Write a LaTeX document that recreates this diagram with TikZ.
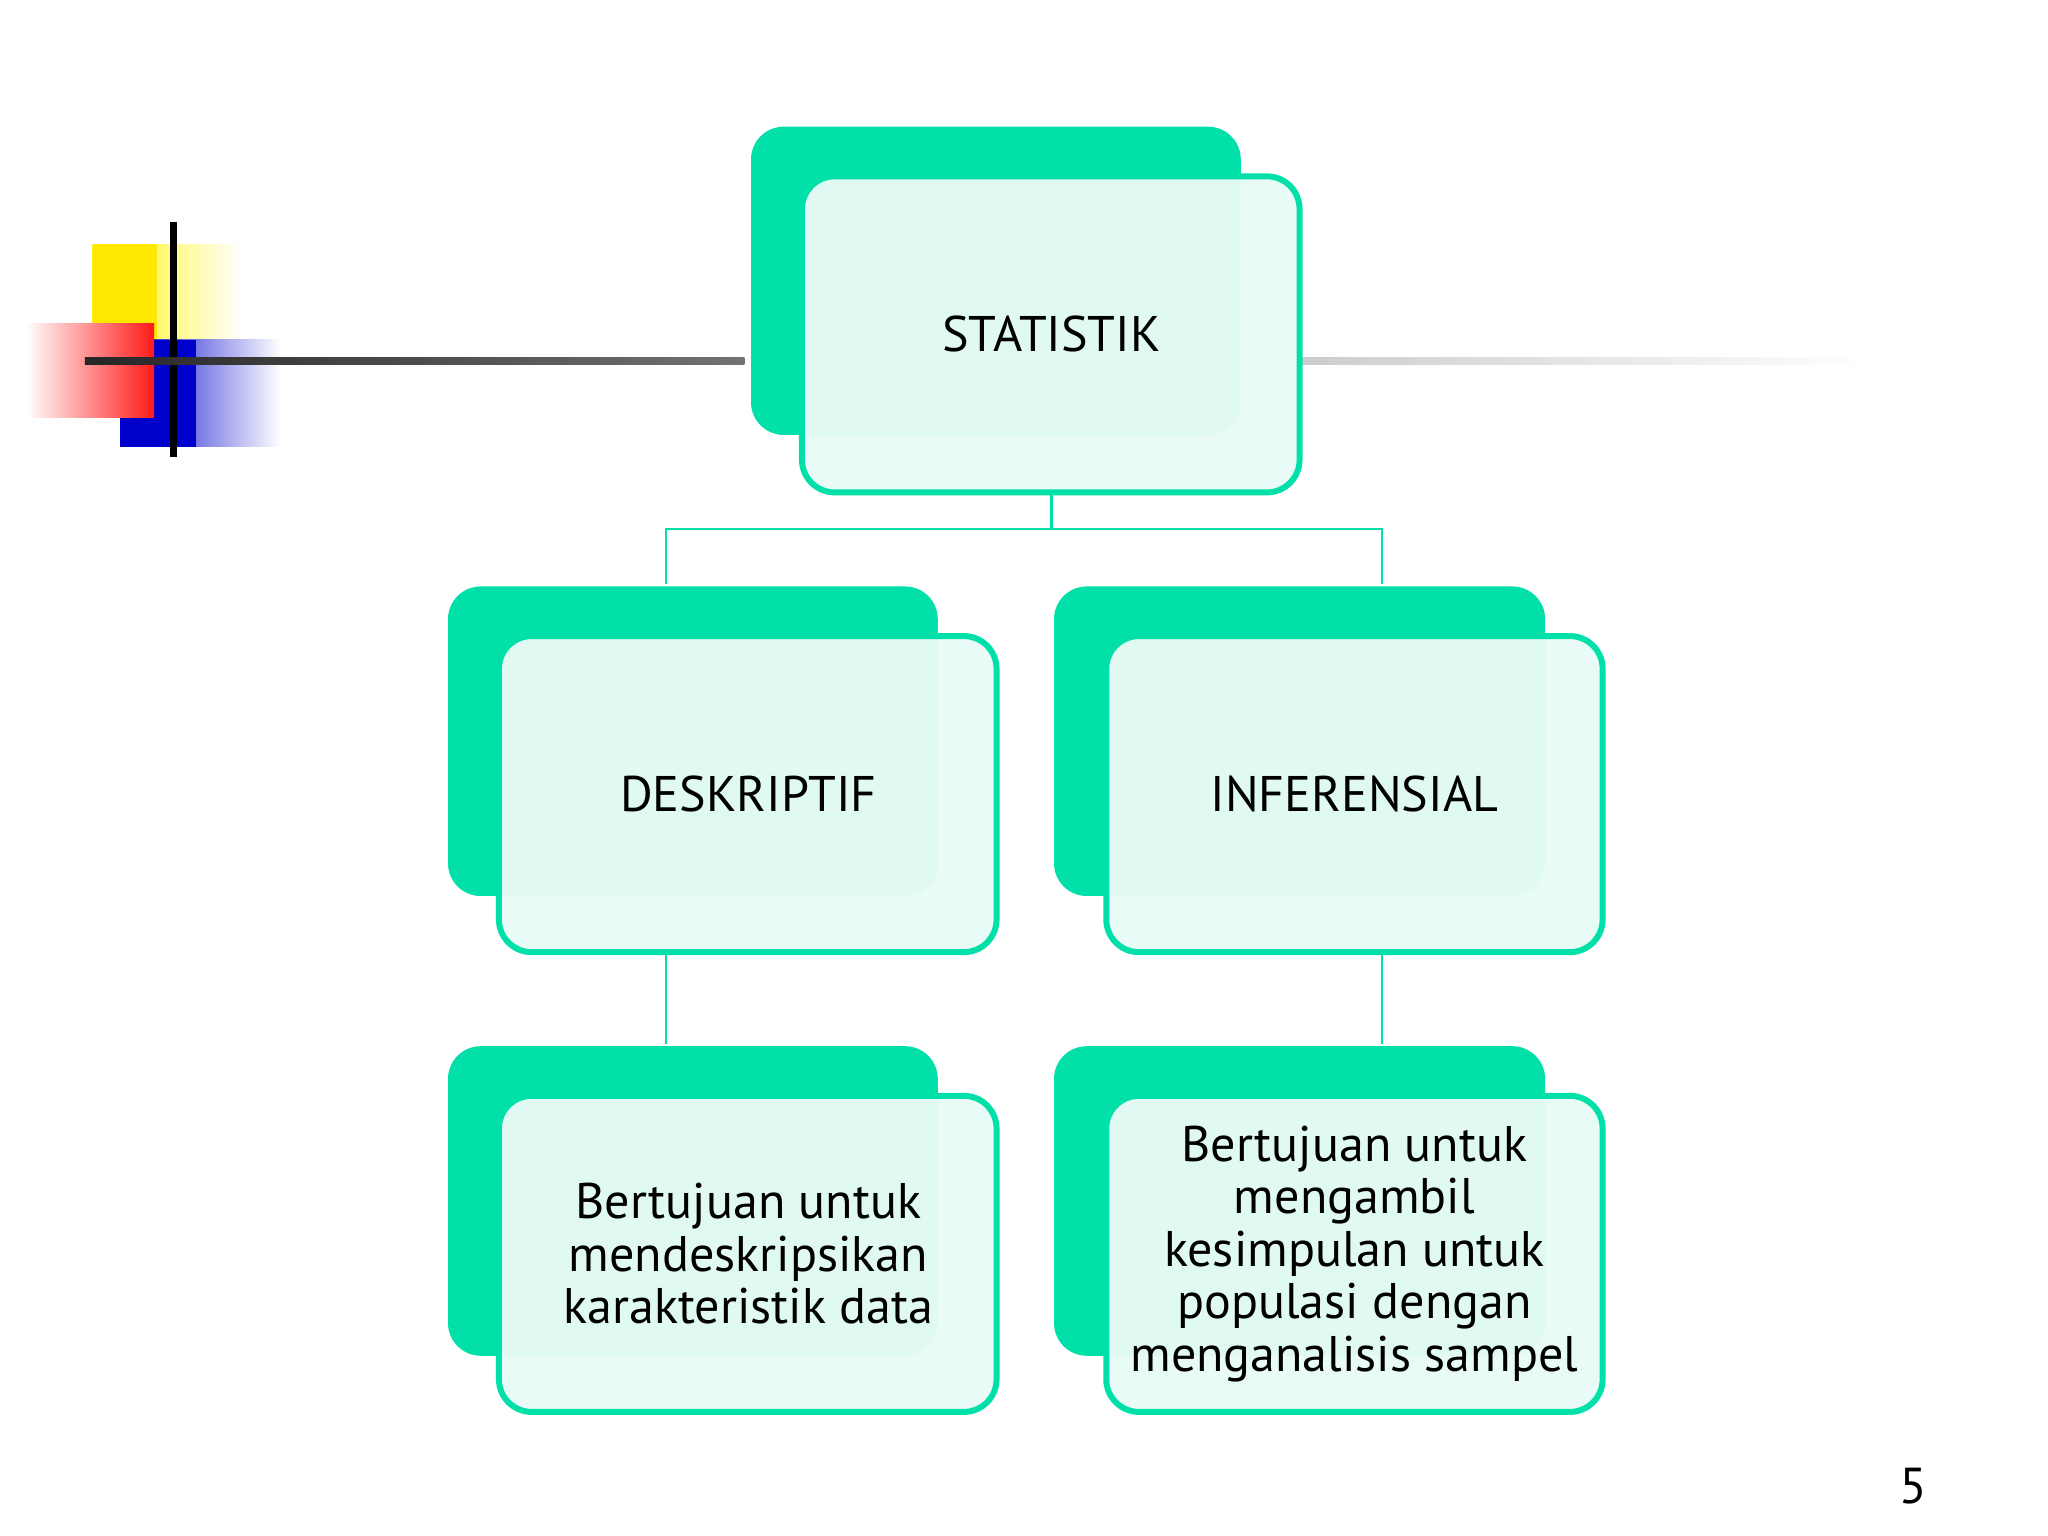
\documentclass[tikz,border=0pt]{standalone}
\usepackage{fontspec}
\setmainfont{PT Sans}
\begin{document}
\begin{tikzpicture}[x=0.01cm,y=-0.01cm,
  front/.style={draw=green1,line width=1.3pt,fill=mint,fill opacity=0.97,rounded corners=0.25cm},
  lbl/.style={font=\fontsize{10.9}{11.4}\selectfont,align=center,text opacity=1},
  conn/.style={draw=green1,line width=0.5pt}]
\definecolor{green1}{HTML}{00E0A8}
\definecolor{mint}{HTML}{E8FBF6}
\useasboundingbox (0,0) rectangle (1568,1176);
% decoration
\shade[left color=yellow!90!orange,right color=white] (71,187) rectangle (185,262);
\fill[yellow!90!orange] (71,187) rectangle (120,262);
\shade[left color=blue!80!black,right color=white] (92,260) rectangle (215,342);
\fill[blue!80!black] (92,260) rectangle (150,342);
\shade[left color=white,right color=red!90] (20,248) rectangle (118,320);
\draw[line width=1.5pt] (133,170) -- (133,350);
\shade[left color=black!85,right color=black!55] (65,274) rectangle (570,279);
\shade[left color=black!20,right color=white] (995,274) rectangle (1430,279);
% boxes
\fill[green1,rounded corners=0.25cm] (575,97) rectangle (950,333);
\draw[front] (614,135) rectangle (995,377);
\node[lbl] (s) at (805,256) {STATISTIK};
\coordinate (sb) at (805,377);
\fill[green1,rounded corners=0.25cm] (343,449) rectangle (718,686);
\draw[front] (382,487) rectangle (763,729);
\node[lbl] (d) at (573,608) {DESKRIPTIF};
\fill[green1,rounded corners=0.25cm] (807,449) rectangle (1183,686);
\draw[front] (847,487) rectangle (1227,729);
\node[lbl] (i) at (1037,608) {INFERENSIAL};
\fill[green1,rounded corners=0.25cm] (343,801) rectangle (718,1038);
\draw[front] (382,839) rectangle (763,1081);
\node[lbl] (d2) at (573,960) {Bertujuan untuk\\mendeskripsikan\\karakteristik data};
\fill[green1,rounded corners=0.25cm] (807,801) rectangle (1183,1038);
\draw[front] (847,839) rectangle (1227,1081);
\node[lbl] (i2) at (1037,960) {Bertujuan untuk\\mengambil\\kesimpulan untuk\\populasi dengan\\menganalisis sampel};
% connectors
\coordinate (db) at (510,729); \coordinate (ib) at (1058,729);
\coordinate (dt) at (510,447); \coordinate (it) at (1058,447);
\coordinate (d2t) at (510,799); \coordinate (i2t) at (1058,799);
\draw[conn] (sb) -- (805,405) -| (dt);
\draw[conn] (805,405) -| (it);
\draw[conn] (db) -- (d2t);
\draw[conn] (ib) -- (i2t);
\node[font=\fontsize{11}{13}\selectfont] (pg) at (1465,1138) {5};
\end{tikzpicture}
\end{document}
